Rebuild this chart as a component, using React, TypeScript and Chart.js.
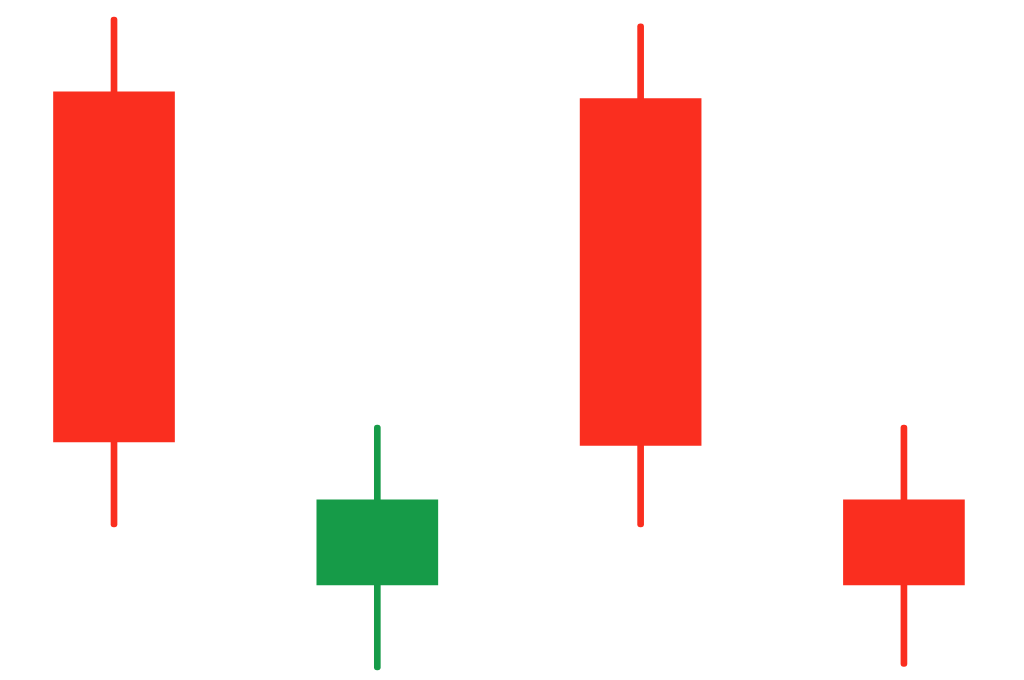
import { Chart, registerables } from "chart.js";
import { useEffect, useRef } from "react";

Chart.register(...registerables);

// four candles, prices
const days = [0, 1, 2, 3];
const opens = [86.5, 14, 85.5, 26.5];
const closes = [35, 26.5, 34.5, 14];
const highs = [97.5, 37.5, 96.5, 37.5];
const lows = [22.5, 1.5, 22.5, 2];

const RED = "#FA2E1F";
const GREEN = "#169B48";

function CandleChart() {
  const chartRef = useRef<HTMLCanvasElement | null>(null);
  useEffect(() => {
    const ctx = chartRef.current?.getContext("2d");
    if (!ctx) return;
    const colors = days.map((_, i) => (closes[i] >= opens[i] ? GREEN : RED));

    const chart = new Chart(ctx, {
      type: "bar",
      data: {
        datasets: [
          {
            label: "body",
            data: days.map((d, i) => ({ x: d, y: [opens[i], closes[i]] })) as any,
            backgroundColor: colors,
            borderWidth: 0,
            barThickness: 121,
            grouped: false,
            order: 1,
          },
          {
            label: "wick",
            data: days.map((d, i) => ({ x: d, y: [lows[i], highs[i]] })) as any,
            backgroundColor: colors,
            borderWidth: 0,
            borderRadius: 3,
            borderSkipped: false,
            barThickness: 6,
            grouped: false,
            order: 2,
          },
        ],
      },
      options: {
        animation: false,
        responsive: true,
        maintainAspectRatio: false,
        layout: { padding: 0 },
        plugins: {
          legend: { display: false },
          tooltip: { enabled: false },
        },
        scales: {
          x: { type: "linear", display: false, offset: false, min: -0.433, max: 3.456 },
          y: { display: false, min: 0, max: 100 },
        },
      },
    });
    return () => chart.destroy();
  }, []);
  return (
    <div style={{ position: "fixed", inset: 0, width: 1024, height: 680, background: "#fff" }}>
      <canvas ref={chartRef}></canvas>
    </div>
  );
}

export default function App() {
  return <CandleChart />;
}
